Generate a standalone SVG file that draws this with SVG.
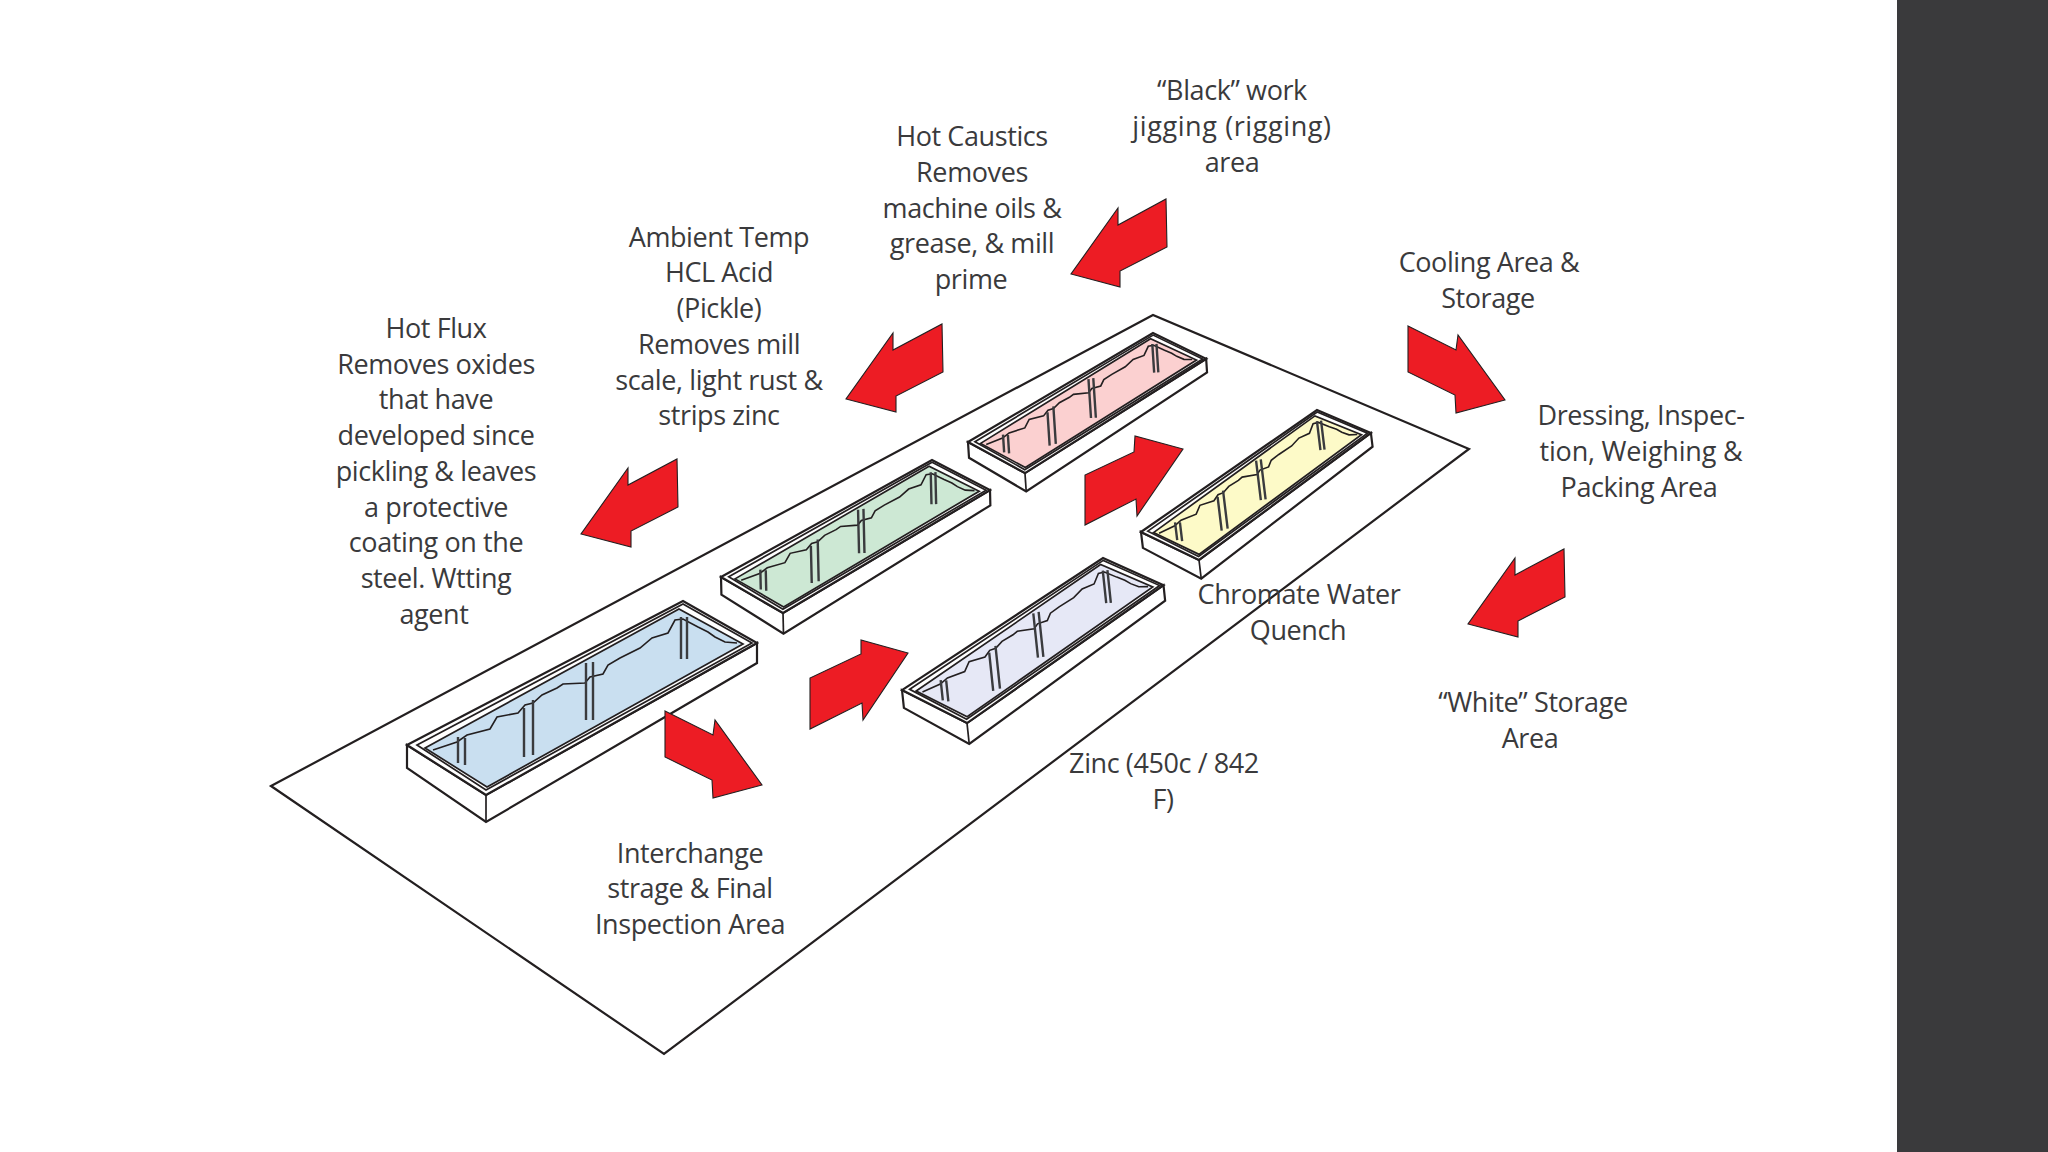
<svg xmlns="http://www.w3.org/2000/svg" width="2048" height="1152" viewBox="0 0 2048 1152">
<style>
text{font-family:"Open Sans","Noto Sans","Liberation Sans",sans-serif;font-size:27px;letter-spacing:-.4px;fill:#3a3a3c;text-anchor:middle}
.ol{fill:#fff;stroke:#231f20;stroke-width:2.2;stroke-linejoin:miter;vector-effect:non-scaling-stroke}
.rm{fill:none;stroke:#231f20;stroke-width:1.7;vector-effect:non-scaling-stroke}
.wl{fill:none;stroke:#231f20;stroke-width:1.6;vector-effect:non-scaling-stroke}
.rd{fill:none;stroke:#3a3b3e;stroke-width:2.4;vector-effect:non-scaling-stroke}
.ar{fill:#ed1c24;stroke:#231f20;stroke-width:1.1}
</style>
<defs>
<g id="tank">
<polygon class="ol" points="407,745 407,768 486,822 757,663 757,643 486,795"/>
<line class="rm" x1="486" y1="795" x2="486" y2="822"/>
<polygon class="ol" points="407,745 683,601 757,643 486,795"/>
<polygon class="rm" points="417,745 683,604 752,643 486,790"/>
<polygon class="rm" points="425,748 679,609 743,644 487,787" style="fill:inherit"/>
<polyline class="wl" points="433,750 457,742 467,735 490,729 497,717 518,713 525,705 533,703 542,695 557,688 563,684 585,683 590,677 603,674 608,665 620,658 640,648 652,638 668,633 675,620 683,619 698,627 708,632 715,637 725,642 737,643"/>
<path class="rd" d="M458,737V763M465,738V765M524,708V757M533,700V755M586,663V720M593,662V720M681,617V659M687,617V659"/>
</g>
</defs>
<rect width="2048" height="1152" fill="#fff"/>
<rect id="sidebar" x="1897" y="0" width="151" height="1152" fill="#3a3a3c"/>
<polygon id="platform" points="271,786 1153,315 1469,449 664,1054" fill="#fff" stroke="#231f20" stroke-width="2.2"/>
<g id="tank-flux"><use href="#tank" fill="#c9dff0"/></g>
<g id="tank-pickle"><use href="#tank" fill="#cde8d4" transform="matrix(.7737 -.0265 .0176 .7618 393 20.3)"/></g>
<g id="tank-caustic"><use href="#tank" fill="#fbd0d0" transform="matrix(.6934 -.0392 .0444 .6819 652.7 -50)"/></g>
<g id="tank-zinc"><use href="#tank" fill="#e6e8f6" transform="matrix(.771 -.0734 .0819 .776 527.2 141.8)"/></g>
<g id="tank-quench"><use href="#tank" fill="#fdfac8" transform="matrix(.6813 -.0821 .0836 .6898 801.4 51.5)"/></g>
<g id="connectors">
<polygon class="ar" points="1166,199 1167,247 1120,271 1120,287 1071,274 1118,208 1118,225"/>
<polygon class="ar" points="942,324 943,372 896,396 896,412 846,399 893,333 893,350"/>
<polygon class="ar" points="677,459 678,507 631,531 631,547 581,534 628,468 628,485"/>
<polygon class="ar" points="1564,549 1565,597 1518,621 1518,637 1468,624 1515,558 1515,575"/>
<polygon class="ar" points="1408,326 1456,350 1458,335 1505,400 1456,413 1455,395 1408,372"/>
<polygon class="ar" points="665,711 713,735 715,720 762,785 713,798 712,780 665,757"/>
<polygon class="ar" points="810,729 810,678 861,654 861,640 908,653 863,720 862,703"/>
<polygon class="ar" points="1085,525 1085,475 1134,452 1135,436 1183,449 1137,516 1136,499"/>
</g>
<g id="label-black"><text x="1232" y="100">“Black” work</text><text x="1232" y="136" style="letter-spacing:.6px">jigging (rigging)</text><text x="1232" y="172">area</text></g>
<g id="label-caustics"><text x="972" y="146">Hot Caustics</text><text x="972" y="182">Removes</text><text x="972" y="218">machine oils &amp;</text><text x="972" y="253">grease, &amp; mill</text><text x="971" y="289">prime</text></g>
<g id="label-ambient"><text x="719" y="247">Ambient Temp</text><text x="719" y="282">HCL Acid</text><text x="719" y="318">(Pickle)</text><text x="719" y="354">Removes mill</text><text x="719" y="390">scale, light rust &amp;</text><text x="719" y="425">strips zinc</text></g>
<g id="label-flux"><text x="436" y="338">Hot Flux</text><text x="436" y="374">Removes oxides</text><text x="436" y="409">that have</text><text x="436" y="445">developed since</text><text x="436" y="481">pickling &amp; leaves</text><text x="436" y="517">a protective</text><text x="436" y="552">coating on the</text><text x="436" y="588">steel. Wtting</text><text x="434" y="624">agent</text></g>
<g id="label-cooling"><text x="1489" y="272">Cooling Area &amp;</text><text x="1488" y="308">Storage</text></g>
<g id="label-dressing"><text x="1641" y="425">Dressing, Inspec-</text><text x="1641" y="461" style="letter-spacing:-.2px">tion, Weighing &amp;</text><text x="1639" y="497">Packing Area</text></g>
<g id="label-chromate"><text x="1299" y="604">Chromate Water</text><text x="1298" y="640">Quench</text></g>
<g id="label-white"><text x="1533" y="712">“White” Storage</text><text x="1530" y="748">Area</text></g>
<g id="label-zinc"><text x="1164" y="773">Zinc (450c / 842</text><text x="1163" y="809">F)</text></g>
<g id="label-interchange"><text x="690" y="863">Interchange</text><text x="690" y="898">strage &amp; Final</text><text x="690" y="934">Inspection Area</text></g>
</svg>
